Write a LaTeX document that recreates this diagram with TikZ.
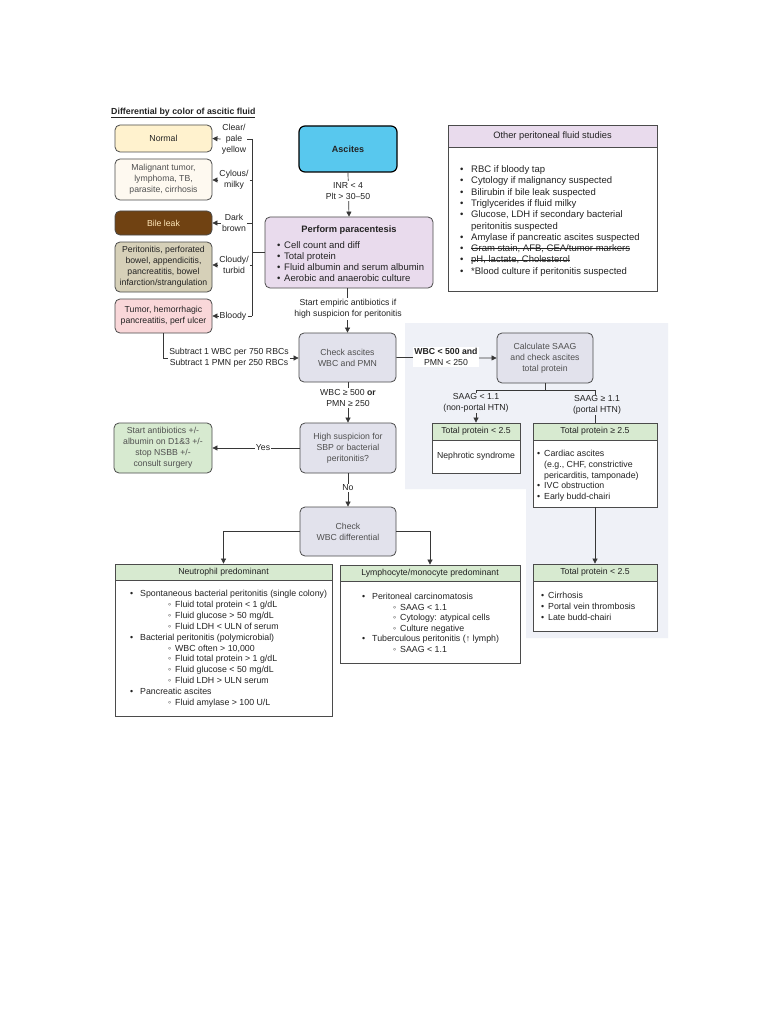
\documentclass[tikz,border=0pt]{standalone}
\usepackage{fontspec}
\setmainfont{Liberation Sans}
\usetikzlibrary{arrows.meta}
\definecolor{txt}{RGB}{35,35,35}
\definecolor{txtg}{RGB}{80,80,80}
\definecolor{bord}{RGB}{75,75,75}
\definecolor{lin}{RGB}{55,55,55}
\definecolor{cNormal}{RGB}{255,242,206}
\definecolor{cMal}{RGB}{254,249,240}
\definecolor{cBile}{RGB}{112,66,18}
\definecolor{cBileT}{RGB}{255,232,185}
\definecolor{cPer}{RGB}{214,208,184}
\definecolor{cTum}{RGB}{249,215,217}
\definecolor{cAsc}{RGB}{88,200,238}
\definecolor{cLav}{RGB}{233,219,237}
\definecolor{cChk}{RGB}{226,226,236}
\definecolor{cGrn}{RGB}{215,234,208}
\definecolor{cBg}{RGB}{239,241,247}
\newcommand\fs{\fontsize{8.7}{11}\selectfont}
\newcommand\fb{\fontsize{9.5}{11.3}\selectfont}
\newcommand\bu[2][10]{\makebox[#1pt][l]{\textbullet}#2}
\newcommand\subu[2][30]{\hspace*{#1pt}\makebox[7pt][l]{◦}#2}
\newcommand\strk[1]{\setbox0\hbox{#1}\rlap{\rule[2.8pt]{\wd0}{0.6pt}}\box0}
\begin{document}
\begin{tikzpicture}[x=1pt,y=-1pt,
  every node/.style={font=\fs, text=txt},
  box/.style={draw=bord, line width=0.8pt, rounded corners=5pt, align=center, inner sep=1pt},
  sq/.style={draw=bord, line width=0.8pt, align=center, inner sep=1pt},
  lbl/.style={fill=white, inner sep=1pt, align=center},
  lst/.style={anchor=north west, inner sep=0pt, align=left},
  conn/.style={draw=lin, line width=0.7pt},
  arr/.style={conn, -{Triangle[length=5pt,width=5pt]}}]
\useasboundingbox (0,0) rectangle (768,1024);
\fill[white] (0,0) rectangle (768,1024);
% background panel on the right
\fill[cBg] (405,323) -- (668,323) -- (668,638) -- (526,638) -- (526,489) -- (405,489) -- cycle;

% ---------- left panel ----------
\node[anchor=west, font=\bfseries\fontsize{8.8}{10}\selectfont, inner sep=0pt] (title) at (111,113) {\underline{Differential by color of ascitic fluid}};
\node[box, fill=cNormal, minimum width=97, minimum height=27] (normal) at (163.5,138.5) {Normal};
\node[box, fill=cMal, minimum width=97, minimum height=41, text=txtg] (malig) at (163.5,179.5) {Malignant tumor,\\lymphoma, TB,\\parasite, cirrhosis};
\node[box, fill=cBile, minimum width=97, minimum height=24, text=cBileT] (bile) at (163.5,223) {Bile leak};
\node[box, fill=cPer, minimum width=97, minimum height=50] (perit) at (163.5,267) {Peritonitis, perforated\\bowel, appendicitis,\\pancreatitis, bowel\\infarction/strangulation};
\node[box, fill=cTum, minimum width=97, minimum height=34] (tumor) at (163.5,316) {Tumor, hemorrhagic\\pancreatitis, perf ulcer};

\node[align=center, inner sep=1pt] (lclear) at (234,139) {Clear/\\pale\\yellow};
\node[align=center, inner sep=1pt] (lcyl) at (234,180) {Cylous/\\milky};
\node[align=center, inner sep=1pt] (ldark) at (234,223) {Dark\\brown};
\node[align=center, inner sep=1pt] (lcloud) at (234,265) {Cloudy/\\turbid};
\node[align=center, inner sep=1pt] (lblood) at (233,316) {Bloody};
\coordinate (bustop) at (252,139);
\coordinate (busbot) at (252,316);
\draw[conn] (bustop) -- (busbot);
\foreach \l in {lclear,lcyl,ldark,lcloud,lblood} { \draw[conn] (\l.east) -- (\l.east -| bustop); }
\draw[arr] (lclear.west) -- (normal.east);
\draw[arr] (lcyl.west) -- (lcyl.west -| malig.east);
\draw[arr] (ldark.west) -- (ldark.west -| bile.east);
\draw[arr] (lcloud.west) -- (lcloud.west -| perit.east);
\draw[arr] (lblood.west) -- (lblood.west -| tumor.east);

% ---------- centre column ----------
\node[box, fill=cAsc, draw=black, line width=1.2pt, rounded corners=6pt, minimum width=98, minimum height=46, font=\bfseries\fontsize{9}{11}\selectfont] (asc) at (348,149) {Ascites};
\node[box, fill=cLav, minimum width=168, minimum height=71] (para) at (349,252.5) {};
\node[font=\bfseries\fontsize{9.3}{11}\selectfont, inner sep=0pt] (paraT) at (349,230) {Perform paracentesis};
\node[lst, font=\fb] (paraL) at (277,241) {\bu[7]{Cell count and diff}\\\bu[7]{Total protein}\\\bu[7]{Fluid albumin and serum albumin}\\\bu[7]{Aerobic and anaerobic culture}};
\draw[conn] (para.west) -- (para.west -| bustop);

\draw[arr] (asc.south) -- (para.north);
\node[lbl] (linr) at (348,191) {INR < 4\\Plt > 30–50};

\node[box, fill=cChk, minimum width=97, minimum height=49, text=txtg] (check) at (347.5,357.5) {Check ascites\\WBC and PMN};
\draw[arr] (para.south -| check.north) -- (check.north);
\node[lbl] (lemp) at (348,309) {Start empiric antibiotics if\\high suspicion for peritonitis};

\node[lbl, align=center] (lsub) at (229,358) {Subtract 1 WBC per 750 RBCs\\Subtract 1 PMN per 250 RBCs};
\draw[conn] (tumor.south) |- (lsub.west);
\draw[arr] (lsub.east) -- (lsub.east -| check.west);

\node[box, fill=cChk, minimum width=96, minimum height=50, text=txtg] (high) at (348,448) {High suspicion for\\SBP or bacterial\\peritonitis?};
\draw[arr] (check.south -| high.north) -- (high.north);
\node[lbl] (lge) at (348,398) {WBC ≥ 500 \textbf{or}\\PMN ≥ 250};

\node[box, fill=cGrn, minimum width=98, minimum height=50, text=txtg] (green) at (163,448) {Start antibiotics +/-\\albumin on D1\&3 +/-\\stop NSBB +/-\\consult surgery};
\draw[arr] (high.west) -- (green.east);
\node[lbl] (lyes) at (263,448) {Yes};

\node[box, fill=cChk, minimum width=96, minimum height=49, text=txtg] (cwbc) at (348,531.5) {Check\\WBC differential};
\draw[arr] (high.south) -- (cwbc.north);
\node[lbl] (lno) at (348,488) {No};

% ---------- neutrophil / lymphocyte ----------
\node[sq, fill=cGrn, minimum width=217, minimum height=16] (neuth) at (223.5,572) {Neutrophil predominant};
\node[sq, minimum width=217, minimum height=136] (neutb) at (223.5,648) {};
\node[lst, font=\fontsize{8.8}{10.9}\selectfont] (neutL) at (130,590) {\bu{Spontaneous bacterial peritonitis (single colony)}\\
\subu[38]{Fluid total protein < 1 g/dL}\\
\subu[38]{Fluid glucose > 50 mg/dL}\\
\subu[38]{Fluid LDH < ULN of serum}\\
\bu{Bacterial peritonitis (polymicrobial)}\\
\subu[38]{WBC often > 10,000}\\
\subu[38]{Fluid total protein > 1 g/dL}\\
\subu[38]{Fluid glucose < 50 mg/dL}\\
\subu[38]{Fluid LDH > ULN serum}\\
\bu{Pancreatic ascites}\\
\subu[38]{Fluid amylase > 100 U/L}};

\node[sq, fill=cGrn, minimum width=180, minimum height=16] (lymh) at (430,573) {Lymphocyte/monocyte predominant};
\node[sq, minimum width=180, minimum height=82] (lymb) at (430,622) {};
\node[lst, font=\fontsize{8.8}{10.6}\selectfont] (lymL) at (362,593) {\bu[10]{Peritoneal carcinomatosis}\\
\subu[31]{SAAG < 1.1}\\
\subu[31]{Cytology: atypical cells}\\
\subu[31]{Culture negative}\\
\bu[10]{Tuberculous peritonitis (↑ lymph)}\\
\subu[31]{SAAG < 1.1}};

\draw[arr] (cwbc.west) -| (neuth.north);
\draw[arr] (cwbc.east) -| (lymh.north);

% ---------- other studies ----------
\node[sq, fill=cLav, minimum width=209, minimum height=22, font=\fontsize{9.3}{11}\selectfont] (othh) at (552.5,136) {Other peritoneal fluid studies};
\node[sq, minimum width=209, minimum height=144] (othb) at (552.5,219) {};
\node[lst, font=\fb] (othL) at (460,165.5) {\bu[11]{RBC if bloody tap}\\
\bu[11]{Cytology if malignancy suspected}\\
\bu[11]{Bilirubin if bile leak suspected}\\
\bu[11]{Triglycerides if fluid milky}\\
\bu[11]{Glucose, LDH if secondary bacterial}\\
\hspace*{11pt}peritonitis suspected\\
\bu[11]{Amylase if pancreatic ascites suspected}\\
\bu[11]{\strk{Gram stain, AFB, CEA/tumor markers}}\\
\bu[11]{\strk{pH, lactate, Cholesterol}}\\
\bu[11]{*Blood culture if peritonitis suspected}};

% ---------- SAAG branch ----------
\node[box, fill=cChk, minimum width=96, minimum height=50, text=txtg] (saag) at (545,358) {Calculate SAAG\\and check ascites\\total protein};
\draw[arr] (check.east) -- (saag.west);
\node[lbl, font=\fs] (llt) at (446,357) {\textbf{WBC < 500 and}\\PMN < 250};

\node[sq, fill=cGrn, minimum width=88, minimum height=17] (tp1h) at (476,431.5) {Total protein < 2.5};
\node[sq, fill=white, minimum width=88, minimum height=33] (tp1b) at (476,456.5) {Nephrotic syndrome};
\node[sq, fill=cGrn, minimum width=124, minimum height=17] (tp2h) at (595,431.5) {Total protein ≥ 2.5};
\node[sq, fill=white, minimum width=124, minimum height=67] (tp2b) at (595,473.5) {};
\node[lst, font=\fontsize{8.8}{10.75}\selectfont] (tp2L) at (537,450) {\bu[7]{Cardiac ascites}\\
\hspace*{7pt}(e.g., CHF, constrictive\\
\hspace*{7pt}pericarditis, tamponade)\\
\bu[7]{IVC obstruction}\\
\bu[7]{Early budd-chairi}};
\node[sq, fill=cGrn, minimum width=124, minimum height=17] (tp3h) at (595,572.5) {Total protein < 2.5};
\node[sq, fill=white, minimum width=124, minimum height=50] (tp3b) at (595,606) {};
\node[lst, font=\fontsize{8.8}{11}\selectfont] (tp3L) at (541,592) {\bu[7]{Cirrhosis}\\\bu[7]{Portal vein thrombosis}\\\bu[7]{Late budd-chairi}};

\coordinate (sj) at (545,390);
\draw[conn] (saag.south) -- (sj);
\draw[arr] (sj) -| (tp1h.north);
\draw[conn] (sj) -| (tp2h.north);
\node[lbl, fill=cBg] (ls1) at (476,403) {SAAG < 1.1\\(non-portal HTN)};
\node[lbl, fill=cBg] (ls2) at (597,405) {SAAG ≥ 1.1\\(portal HTN)};
\draw[arr] (tp2b.south) -- (tp3h.north);
\end{tikzpicture}
\end{document}
